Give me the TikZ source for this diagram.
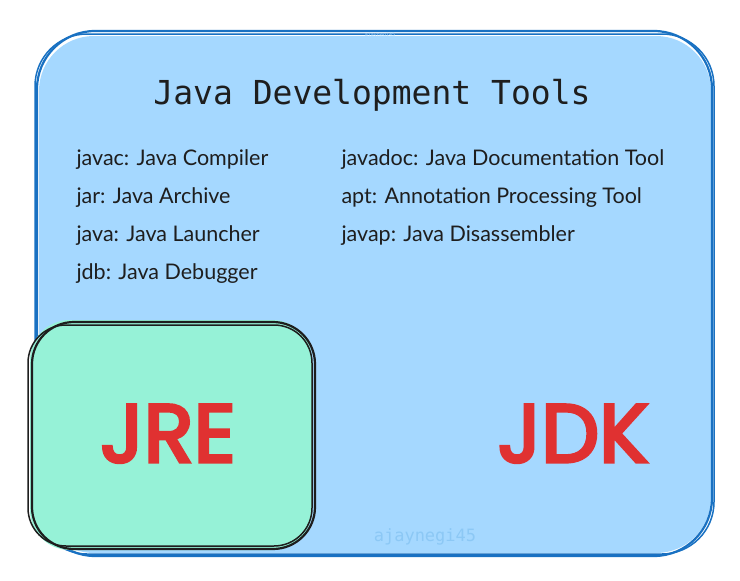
\documentclass[tikz,border=0pt]{standalone}
\usepackage{fontspec}
\setmainfont{Lato}
\newfontfamily\titlefont{DejaVu Sans Mono}
\newfontfamily\bigfont{Poppins}[FakeBold=4]
\usetikzlibrary{positioning}
\definecolor{jdkfill}{HTML}{A5D8FF}
\definecolor{jdkline}{HTML}{1971C2}
\definecolor{jrefill}{HTML}{96F2D7}
\definecolor{inkdark}{HTML}{1E1E1E}
\definecolor{inkred}{HTML}{E03131}
\definecolor{marklight}{HTML}{8CC8F5}
\tikzset{
	tooltext/.style={anchor=base west, text=inkdark, font=\fontsize{21.5}{24}\selectfont},
	bigtext/.style={anchor=base, text=inkred, font=\bigfont\fontsize{82}{88}\selectfont},
}

\begin{document}
\begin{tikzpicture}[x=1pt, y=-1pt]
			%%%%% START %%%%%
			\useasboundingbox (0, 0) rectangle (740, 581);
			
			\fill[jdkfill, rounded corners=55] (39, 36) rectangle (711, 553);
			\draw[line width=2.2pt, color=jdkline, rounded corners=58] (37, 31) rectangle (712, 556);
			\draw[line width=1.5pt, color=jdkline, rounded corners=52] (35, 34) rectangle (714, 554);
			
			\fill[jrefill, rounded corners=40] (30, 320) rectangle (312, 550);
			\draw[line width=2.2pt, color=inkdark, rounded corners=42] (32, 322) rectangle (315, 549);
			\draw[line width=1.5pt, color=inkdark, rounded corners=38] (28, 325) rectangle (312, 546);
			
			\node[anchor=base, text=inkdark, font=\titlefont\fontsize{33}{38}\selectfont] (title) at (372, 104) {Java Development Tools};
			
			\node[tooltext] (javac) at (73, 165) {javac: Java Compiler};
			\node[tooltext] (jar) at (73, 203) {jar: Java Archive};
			\node[tooltext] (java) at (73, 241) {java: Java Launcher};
			\node[tooltext] (jdb) at (73, 279) {jdb: Java Debugger};
			
			\node[tooltext] (javadoc) at (338, 165) {javadoc: Java Documentation Tool};
			\node[tooltext] (apt) at (338, 203) {apt: Annotation Processing Tool};
			\node[tooltext] (javap) at (338, 241) {javap: Java Disassembler};
			
			\node[bigtext] (jre) at (168, 462) {JRE};
			\node[bigtext] (jdk) at (573, 462) {JDK};
			
			\node[anchor=base, text=marklight, font=\titlefont\fontsize{17}{20}\selectfont] (mark) at (425, 541) {ajaynegi45};
			\node[anchor=base, text=jdkfill, font=\titlefont\fontsize{5}{6}\selectfont] (marktop) at (380, 36) {ajaynegi45};
			
			%%%%% END %%%%%
\end{tikzpicture}
\end{document}
